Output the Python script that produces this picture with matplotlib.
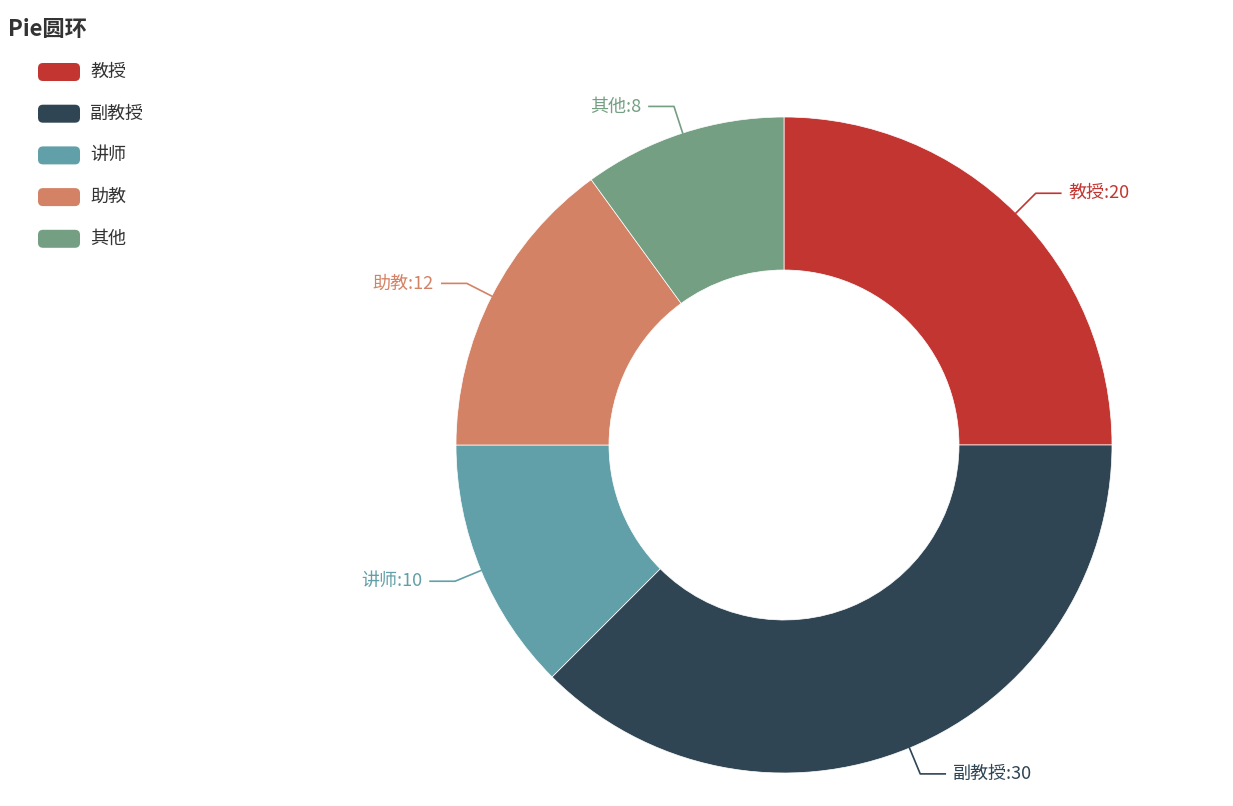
import numpy as np
import matplotlib.pyplot as plt
from matplotlib.patches import FancyBboxPatch

plt.rcParams['font.family'] = ['Noto Sans CJK SC', 'DejaVu Sans']

names = ['教授', '副教授', '讲师', '助教', '其他']
values = [20, 30, 10, 12, 8]
colors = ['#c23531', '#2f4554', '#61a0a8', '#d48265', '#749f83']

W, H = 1233, 806
fig = plt.figure(figsize=(W / 100, H / 100), dpi=100)
ax = fig.add_axes([0, 0, 1, 1])
ax.set_xlim(0, W)
ax.set_ylim(0, H)
ax.axis('off')

cx, cy = 784, H - 445
R, r_in = 328, 175
ax.pie(values, colors=colors, startangle=90, counterclock=False,
       center=(cx, cy), radius=R, frame=True,
       wedgeprops=dict(width=R - r_in, edgecolor='white', linewidth=0.5))
ax.set_xlim(0, W)
ax.set_ylim(0, H)
ax.set_aspect('equal')
ax.axis('off')

# labels with leader lines
total = sum(values)
start = 90.0
for name, v, c in zip(names, values, colors):
    sweep = 360.0 * v / total
    mid = np.deg2rad(start - sweep / 2)
    start -= sweep
    x0, y0 = cx + R * np.cos(mid), cy + R * np.sin(mid)
    x1, y1 = cx + (R + 28) * np.cos(mid), cy + (R + 28) * np.sin(mid)
    side = 1 if np.cos(mid) >= 0 else -1
    x2 = x1 + side * 25
    ax.plot([x0, x1, x2], [y0, y1, y1], color=c, lw=1.2)
    ax.text(x2 + side * 8, y1, f'{name}:{v}', color=c, fontsize=13,
            ha='left' if side > 0 else 'right', va='center')

# title
ax.text(8, H - 30, 'Pie圆环', fontsize=16, fontweight='bold', color='#333333',
        va='center', ha='left')

# legend
for i, (name, c) in enumerate(zip(names, colors)):
    y = H - (72 + i * 41.7)
    ax.add_patch(FancyBboxPatch((38, y - 9), 42, 18,
                                boxstyle='round,pad=0,rounding_size=5',
                                fc=c, ec='none'))
    ax.text(90, y, name, fontsize=13, color='#333333', va='center', ha='left')

fig.savefig('out.png', dpi=100)
